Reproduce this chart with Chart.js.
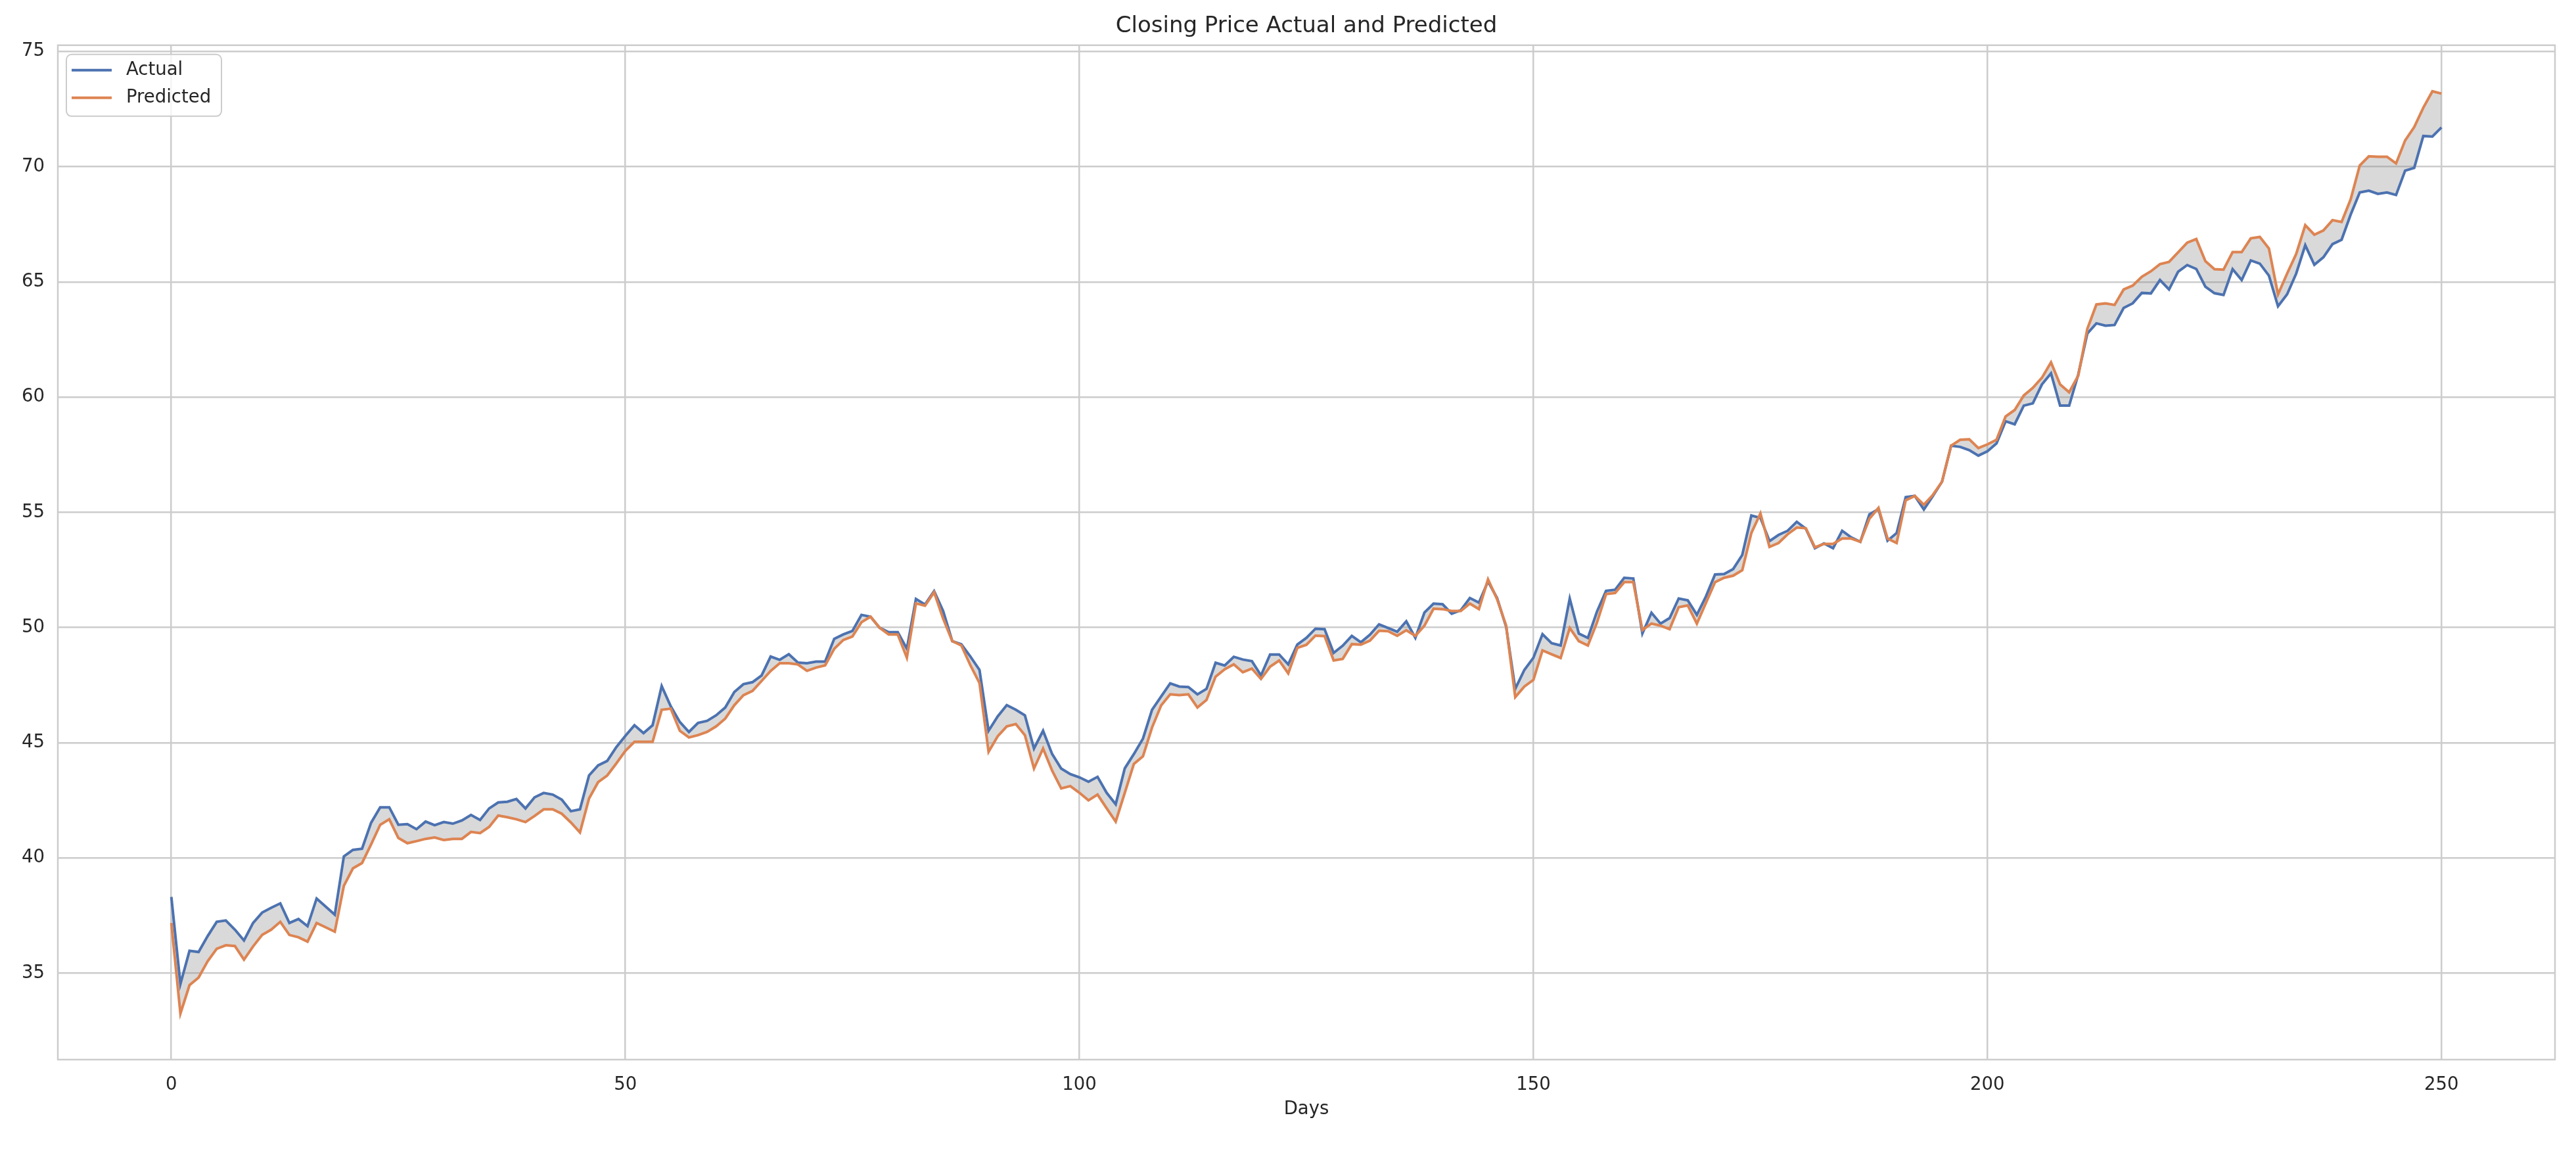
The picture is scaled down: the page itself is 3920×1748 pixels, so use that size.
<!DOCTYPE html>
<html>
<head>
<meta charset="utf-8">
<title>Closing Price Actual and Predicted</title>
<script src="https://cdn.jsdelivr.net/npm/chart.js@4.4.1/dist/chart.umd.min.js"></script>
<style>
    html, body { margin: 0; padding: 0; background: #fff; }
    #wrap { width: 3920px; height: 1748px; }
</style>
</head>
<body>
<div id="wrap"><canvas id="closeChart" width="3920" height="1748"></canvas></div>
<script>
/* ===== Data ===== */
var ACTUAL = [
    38.31, 34.53, 35.97, 35.92, 36.61, 37.23, 37.29, 36.89, 36.42, 37.18,
    37.63, 37.84, 38.03, 37.18, 37.35, 37.04, 38.24, 37.89, 37.54, 40.07,
    40.35, 40.40, 41.53, 42.20, 42.20, 41.44, 41.47, 41.25, 41.58, 41.42,
    41.56, 41.49, 41.63, 41.87, 41.65, 42.15, 42.41, 42.44, 42.56, 42.15,
    42.63, 42.82, 42.75, 42.53, 42.03, 42.11, 43.58, 44.02, 44.21, 44.81,
    45.30, 45.76, 45.42, 45.76, 47.46, 46.58, 45.90, 45.47, 45.86, 45.95,
    46.19, 46.53, 47.20, 47.54, 47.63, 47.92, 48.74, 48.60, 48.84, 48.48,
    48.45, 48.52, 48.52, 49.51, 49.70, 49.85, 50.55, 50.47, 49.99, 49.80,
    49.80, 49.08, 51.24, 51.00, 51.58, 50.71, 49.41, 49.27, 48.74, 48.16,
    45.52, 46.14, 46.63, 46.43, 46.19, 44.75, 45.52, 44.51, 43.88, 43.64,
    43.50, 43.31, 43.52, 42.83, 42.33, 43.89, 44.51, 45.18, 46.43, 47.01,
    47.58, 47.44, 47.42, 47.10, 47.34, 48.47, 48.35, 48.73, 48.61, 48.54,
    47.92, 48.83, 48.83, 48.40, 49.26, 49.55, 49.95, 49.93, 48.90, 49.21,
    49.64, 49.36, 49.69, 50.14, 49.98, 49.82, 50.27, 49.55, 50.65, 51.04,
    51.01, 50.60, 50.75, 51.28, 51.08, 52.00, 51.28, 50.03, 47.34, 48.16,
    48.69, 49.71, 49.32, 49.22, 51.26, 49.74, 49.55, 50.69, 51.59, 51.64,
    52.16, 52.13, 49.74, 50.64, 50.17, 50.41, 51.26, 51.18, 50.55, 51.35,
    52.30, 52.32, 52.54, 53.15, 54.86, 54.76, 53.75, 54.02, 54.20, 54.59,
    54.29, 53.44, 53.65, 53.44, 54.20, 53.91, 53.72, 54.91, 55.14, 53.77,
    54.10, 55.66, 55.71, 55.12, 55.71, 56.33, 57.89, 57.84, 57.70, 57.46,
    57.65, 57.99, 58.95, 58.82, 59.63, 59.73, 60.55, 61.03, 59.63, 59.63,
    60.98, 62.76, 63.20, 63.10, 63.13, 63.87, 64.07, 64.52, 64.50, 65.08,
    64.67, 65.44, 65.73, 65.56, 64.79, 64.51, 64.43, 65.55, 65.08, 65.93,
    65.79, 65.27, 63.94, 64.46, 65.36, 66.59, 65.74, 66.07, 66.64, 66.83,
    67.92, 68.88, 68.96, 68.82, 68.88, 68.77, 69.83, 69.95, 71.33, 71.31,
    71.70
];

var PREDICTED = [
    37.18, 33.25, 34.48, 34.81, 35.52, 36.06, 36.21, 36.18, 35.59, 36.16,
    36.66, 36.89, 37.23, 36.66, 36.56, 36.37, 37.18, 36.99, 36.80, 38.79,
    39.55, 39.78, 40.59, 41.44, 41.68, 40.87, 40.64, 40.73, 40.83, 40.89,
    40.78, 40.83, 40.83, 41.13, 41.08, 41.35, 41.84, 41.77, 41.68, 41.56,
    41.82, 42.11, 42.11, 41.92, 41.54, 41.11, 42.58, 43.29, 43.58, 44.10,
    44.65, 45.04, 45.04, 45.04, 46.43, 46.48, 45.52, 45.23, 45.33, 45.47,
    45.71, 46.05, 46.63, 47.06, 47.25, 47.68, 48.12, 48.45, 48.45, 48.40,
    48.12, 48.26, 48.36, 49.08, 49.46, 49.61, 50.23, 50.47, 49.99, 49.70,
    49.70, 48.69, 51.05, 50.95, 51.53, 50.38, 49.41, 49.22, 48.36, 47.59,
    44.61, 45.28, 45.71, 45.81, 45.33, 43.88, 44.75, 43.79, 43.02, 43.12,
    42.83, 42.50, 42.75, 42.16, 41.58, 42.83, 44.08, 44.41, 45.66, 46.62,
    47.10, 47.07, 47.10, 46.53, 46.86, 47.87, 48.19, 48.40, 48.06, 48.22,
    47.77, 48.30, 48.57, 48.01, 49.12, 49.25, 49.65, 49.63, 48.57, 48.64,
    49.28, 49.26, 49.43, 49.86, 49.84, 49.64, 49.88, 49.64, 50.08, 50.82,
    50.80, 50.72, 50.72, 51.04, 50.80, 52.09, 51.23, 50.08, 46.98, 47.44,
    47.73, 49.01, 48.84, 48.68, 49.98, 49.41, 49.22, 50.22, 51.45, 51.50,
    51.97, 51.97, 49.89, 50.17, 50.08, 49.93, 50.88, 50.96, 50.17, 51.07,
    51.97, 52.16, 52.25, 52.49, 54.10, 54.95, 53.50, 53.67, 54.05, 54.34,
    54.31, 53.48, 53.63, 53.63, 53.86, 53.86, 53.72, 54.72, 55.19, 53.86,
    53.67, 55.52, 55.71, 55.33, 55.76, 56.33, 57.89, 58.15, 58.17, 57.79,
    57.95, 58.15, 59.16, 59.44, 60.07, 60.40, 60.84, 61.51, 60.55, 60.21,
    60.93, 62.96, 64.02, 64.07, 64.00, 64.67, 64.84, 65.22, 65.46, 65.77,
    65.87, 66.28, 66.70, 66.86, 65.90, 65.55, 65.53, 66.29, 66.29, 66.89,
    66.95, 66.45, 64.46, 65.36, 66.21, 67.46, 67.05, 67.23, 67.68, 67.60,
    68.58, 70.05, 70.45, 70.43, 70.43, 70.14, 71.14, 71.72, 72.56, 73.27,
    73.17
];

// day index of each observation (0 .. 250)
var DAYS = ACTUAL.map(function (_, i) { return i; });

var X_TICKS = [0, 50, 100, 150, 200, 250];
var Y_TICKS = [35, 40, 45, 50, 55, 60, 65, 70, 75];

/* ===== Style ===== */
var COLORS = {
    actual:    '#4C72B0',
    predicted: '#DD8452',
    band:      'rgba(128,128,128,0.3)',
    grid:      '#cccccc',
    text:      '#262626'
};
var FAMILY = "'DejaVu Sans', 'Liberation Sans', sans-serif";
var FONT = { family: FAMILY, size: 27.5 };

function points(values) {
    return values.map(function (v, i) { return { x: DAYS[i], y: v }; });
}

/* spines on all four sides + matplotlib-like legend inside the axes */
var frameAndLegend = {
    id: 'frameAndLegend',
    // centre the title over the axes, not over the whole canvas
    afterLayout: function (chart) {
        var t = chart.titleBlock;
        if (!t) return;
        t.left = chart.chartArea.left;
        t.right = chart.chartArea.right;
        t.width = t.right - t.left;
    },
    afterDraw: function (chart) {
        var ctx = chart.ctx;
        var a = chart.chartArea;
        ctx.save();
        ctx.strokeStyle = COLORS.grid;
        ctx.lineWidth = 2.5;
        ctx.strokeRect(a.left, a.top, a.right - a.left, a.bottom - a.top);

        var x0 = a.left + 13, y0 = a.top + 14, w = 236, h = 94, r = 8;
        ctx.beginPath();
        ctx.moveTo(x0 + r, y0);
        ctx.arcTo(x0 + w, y0, x0 + w, y0 + h, r);
        ctx.arcTo(x0 + w, y0 + h, x0, y0 + h, r);
        ctx.arcTo(x0, y0 + h, x0, y0, r);
        ctx.arcTo(x0, y0, x0 + w, y0, r);
        ctx.closePath();
        ctx.fillStyle = 'rgba(255,255,255,0.8)';
        ctx.fill();
        ctx.lineWidth = 2;
        ctx.strokeStyle = COLORS.grid;
        ctx.stroke();

        ctx.font = FONT.size + 'px ' + FAMILY;
        ctx.textBaseline = 'middle';
        ctx.textAlign = 'left';
        chart.data.datasets.forEach(function (ds, i) {
            var cy = y0 + 24 + i * 42;
            ctx.beginPath();
            ctx.moveTo(x0 + 8, cy);
            ctx.lineTo(x0 + 69, cy);
            ctx.strokeStyle = ds.borderColor;
            ctx.lineWidth = 4;
            ctx.stroke();
            ctx.fillStyle = COLORS.text;
            ctx.fillText(ds.label, x0 + 91, cy);
        });
        ctx.restore();
    }
};

new Chart(document.getElementById('closeChart'), {
    type: 'line',
    data: {
        datasets: [{
            label: 'Actual',
            data: points(ACTUAL),
            borderColor: COLORS.actual,
            backgroundColor: COLORS.band,
            borderWidth: 4,
            pointRadius: 0,
            tension: 0,
            fill: '+1',
            order: 1
        }, {
            label: 'Predicted',
            data: points(PREDICTED),
            borderColor: COLORS.predicted,
            backgroundColor: COLORS.predicted,
            borderWidth: 4,
            pointRadius: 0,
            tension: 0,
            fill: false,
            order: 0
        }]
    },
    options: {
        responsive: false,
        devicePixelRatio: 1,
        animation: false,
        layout: { padding: { left: 0, right: 32, top: 0, bottom: 0 } },
        plugins: {
            legend: { display: false },
            tooltip: { enabled: false },
            title: {
                display: true,
                text: 'Closing Price Actual and Predicted',
                color: COLORS.text,
                font: { family: FAMILY, size: 34, weight: 'normal' },
                padding: { top: 20, bottom: 8 }
            }
        },
        scales: {
            x: {
                type: 'linear',
                min: -12.5,
                max: 262.5,
                afterBuildTicks: function (s) { s.ticks = X_TICKS.map(function (v) { return { value: v }; }); },
                afterFit: function (s) { s.height = 136; },
                grid: { color: COLORS.grid, lineWidth: 2.5, drawTicks: false },
                border: { display: false },
                ticks: { font: FONT, color: COLORS.text, padding: 22, maxRotation: 0 },
                title: {
                    display: true,
                    text: 'Days',
                    color: COLORS.text,
                    font: FONT,
                    padding: { top: 0, bottom: 44 }
                }
            },
            y: {
                min: 31.25,
                max: 75.27,
                afterBuildTicks: function (s) { s.ticks = Y_TICKS.map(function (v) { return { value: v }; }); },
                afterFit: function (s) { s.width = 88; },
                grid: { color: COLORS.grid, lineWidth: 2.5, drawTicks: false },
                border: { display: false },
                ticks: { font: FONT, color: COLORS.text, padding: 20 }
            }
        }
    },
    plugins: [frameAndLegend]
});
</script>
</body>
</html>
